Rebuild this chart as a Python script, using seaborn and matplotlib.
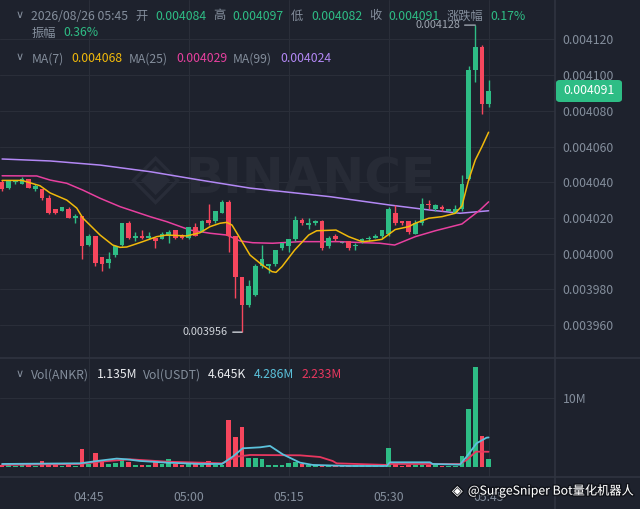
import numpy as np
import matplotlib
matplotlib.use("Agg")
import matplotlib.pyplot as plt
import seaborn as sns
from matplotlib import patheffects as pe
from matplotlib.lines import Line2D
from matplotlib.patches import FancyBboxPatch

# ---------------- data (prices in 1e-6 USDT, volumes in millions) ----------------
open_e6 = [4040,4037,4040,4039,4042,4036,4036,4031,4025,4024,4025,4020,4021,4005,4010,3998,3995,3999,4005,4017,
           4009,4010,4009,4009,4008,4010,4013,4010,4009,4015,4012,4019,4018,4023,4029,4010,3987,3971,3977,3993,
           3993,3994,4003,4004,4008,4019,4016,4017,4018,4004,4010,4006,4007,4004,4007,4008,4009,4010,4011,4023,
           4018,4018,4011,4017,4028,4025,4026,4024,4023,4025,4042,4103,4116,4084]
close_e6 = [4036,4041,4041,4042,4037,4038,4031,4023,4023,4026,4020,4021,4004,4010,3995,3994,3997,4004,4017,4009,
            4010,4009,4010,4007,4011,4012,4009,4009,4015,4010,4018,4017,4024,4029,4010,3987,3971,3982,3993,3997,
            3994,4002,4006,4008,4019,4017,4017,4018,4003,4009,4008,4006,4003,4005,4008,4009,4010,4013,4025,4017,
            4017,4012,4017,4028,4027,4027,4025,4025,4025,4039,4103,4116,4084,4091]
high_e6 = [4041,4041,4041,4043,4042,4039,4036,4033,4025,4026,4026,4022,4021,4011,4010,3998,4001,4005,4017,4018,
           4012,4013,4012,4009,4012,4013,4013,4011,4015,4017,4019,4028,4024,4030,4030,4010,3987,3985,3994,4005,
           3994,4002,4006,4008,4021,4020,4020,4019,4019,4010,4011,4007,4007,4006,4009,4010,4011,4013,4026,4027,
           4018,4018,4019,4031,4030,4028,4027,4025,4027,4044,4105,4128,4117,4097]
low_e6 = [4035,4036,4039,4039,4037,4035,4030,4022,4022,4024,4020,4017,3997,4004,3993,3990,3992,3998,4004,4008,
          4007,4008,4008,4003,4008,4006,4008,4008,4008,4010,4012,4016,4017,4023,4001,3975,3956,3970,3976,3992,
          3989,3993,4002,4001,4007,4016,4014,4016,4002,4003,4007,4006,4002,4002,4006,4007,4009,4009,4010,4016,
          4016,4011,4011,4016,4025,4024,4024,4024,4023,4024,4041,4096,4078,4082]
volume_m = [0.38,0.29,0.24,0.29,0.38,0.24,0.91,0.57,0.38,0.24,0.38,0.24,2.63,0.48,2.11,1.05,0.48,0.67,1.05,0.81,
            0.38,0.38,0.38,0.81,0.48,1.15,0.48,0.38,0.48,0.77,0.38,0.86,0.29,0.29,6.80,4.31,5.75,1.29,1.29,1.15,
            0.34,0.34,0.34,0.57,0.77,0.48,0.38,0.29,0.38,0.38,0.29,0.29,0.29,0.29,0.29,0.34,0.29,0.34,2.73,0.48,
            0.24,0.34,0.34,0.38,0.34,0.29,0.24,0.24,0.24,1.63,8.43,14.37,4.50,1.135]

# moving averages (candle index -> value)
ma7_idx = [0,3,5.7,7.2,9.7,11.2,12.1,14.7,16.6,17.7,18.7,19.6,21.1,23.2,24.7,27.7,29.7,31.2,32.7,33.7,34.5,35.7,
           37.2,39,40.5,41.1,42,43.9,46,47.2,50.1,52,54,55.6,57,59,61,62,64,66,68,69,70,71,72,73]
ma7_e6 = [4041,4041,4038,4034,4030,4025.5,4020,4010.4,4004.8,4003.5,4003.7,4004.8,4006.7,4009.5,4010.4,4009.9,
          4011.7,4015.1,4017,4017.5,4016,4008.6,3999.2,3993.7,3989.9,3989.5,3992.7,4002,4010.4,4012.8,4013.2,
          4009.5,4006.7,4007.2,4008,4013.5,4015.1,4017,4019.8,4020.7,4022.6,4026.7,4041.2,4052.4,4059.9,4068]
ma25_idx = [0,5.2,7.2,9.7,12.1,14.7,17.7,22.2,24.7,28.2,31.2,33.7,35.7,37.6,40.6,44.7,50.7,54.4,56.7,58.9,62,65,
            69,71.7,73]
ma25_e6 = [4043.6,4043.5,4041.2,4039.4,4035.6,4031,4026.3,4020.7,4017.9,4013.2,4011.4,4010.4,4007.1,4006.1,4005.8,
           4006.7,4006.7,4006.1,4005.8,4004.8,4009.5,4012.8,4016.6,4024.4,4029]
ma99_idx = [0,7.2,14.7,22.2,29.7,37.2,49.2,58.2,64.2,68.7,73]
ma99_e6 = [4053,4051.9,4049.6,4045.9,4041.2,4036.7,4031.9,4027.2,4024.4,4022.6,4024]

vma_a_idx = [0,11.7,14.7,17.2,18.7,20.7,24.7,29.7,33,34.6,36.1,38.7,40.2,42.1,44.7,46.6,52.2,57.7,58.2,64.2,64.6,
             68.7,69.7,71.2,72.7,73]
vma_a_m = [0.48,0.57,0.96,1.25,1.15,0.91,0.67,0.48,0.48,1.53,2.73,2.87,3.07,1.87,0.67,0.34,0.19,0.19,0.72,0.72,
           0.48,0.38,1.53,3.45,4.26,4.286]
vma_b_idx = [0,7.2,11.7,14.7,19.2,24.7,29.7,33,35.2,37.2,44.7,47.7,49.6,50.2,57.7,58.2,68.7,69.7,71.1,73]
vma_b_m = [0.34,0.43,0.48,0.81,1.15,0.81,0.67,0.57,1.53,1.77,1.72,1.48,0.91,0.57,0.34,0.48,0.48,1.05,2.25,2.233]

price_ticks_e6 = [3960,3980,4000,4020,4040,4060,4080,4100,4120]
time_idx = [13,28,43,58,73]
time_labels = ["04:45","05:00","05:15","05:30","05:45"]

# ---------------- style ----------------
BG = "#1e222d"
GRID = "#2a2e39"
SEP = "#2f3440"
GRAY = "#848e9c"
GREEN = "#2ebd85"
RED = "#f6465d"
YEL = "#f0b90b"
PINK = "#e8409f"
PURP = "#b388f5"
CYAN = "#5bc2dc"
VRED = "#e8375f"
FS = 8.8

sns.set_theme(style="dark")
plt.rcParams["font.family"] = ["Noto Sans CJK SC", "DejaVu Sans"]
plt.rcParams["axes.unicode_minus"] = False

W, H = 640, 509
fig = plt.figure(figsize=(6.4, 5.09), dpi=100, facecolor=BG)
def fx(px): return px / W
def fy(py): return 1 - py / H

P_BOT, V_BOT, R_EDGE = 358, 476.7, 554.5
ax = fig.add_axes([0, fy(P_BOT), R_EDGE / W, P_BOT / H])
axv = fig.add_axes([0, fy(V_BOT), R_EDGE / W, (V_BOT - P_BOT) / H])
for a in (ax, axv):
    a.set_facecolor(BG)
    a.grid(False)
    for s in a.spines.values():
        s.set_visible(False)
    a.set_xlim(-0.315, 82.89)

o = np.array(open_e6) * 1e-6
c = np.array(close_e6) * 1e-6
h = np.array(high_e6) * 1e-6
l = np.array(low_e6) * 1e-6
idx = np.arange(len(o))
cols = np.where(c > o, GREEN, np.where(c < o, RED, GRAY))

# grid
for p in price_ticks_e6:
    ax.axhline(p * 1e-6, color=GRID, lw=0.8, zorder=0)
for t in time_idx:
    ax.axvline(t, color=GRID, lw=0.8, zorder=0)
    axv.axvline(t, color=GRID, lw=0.8, zorder=0)
axv.axhline(10, color=GRID, lw=0.8, zorder=0)

# watermark
ax.text(0.28, 0.5, "◈", transform=ax.transAxes, fontsize=46, color="#282c38",
        ha="center", va="center", family=["DejaVu Sans"], zorder=0.5)
ax.text(0.56, 0.5, "BINANCE", transform=ax.transAxes, fontsize=36, fontweight="bold",
        color="#272b36", ha="center", va="center", family=["DejaVu Sans"], zorder=0.5)

# candles
ax.vlines(idx, l, h, colors=cols, lw=1, zorder=3)
body_b = np.minimum(o, c)
body_h = np.maximum(np.abs(c - o), 0.7e-6)
ax.bar(idx, body_h, bottom=body_b, width=0.7, color=cols, linewidth=0, zorder=4)

# moving averages
sns.lineplot(x=ma99_idx, y=np.array(ma99_e6) * 1e-6, ax=ax, color=PURP, lw=1.1, estimator=None, sort=False, legend=False, zorder=2)
sns.lineplot(x=ma25_idx, y=np.array(ma25_e6) * 1e-6, ax=ax, color=PINK, lw=1.1, estimator=None, sort=False, legend=False, zorder=2)
sns.lineplot(x=ma7_idx, y=np.array(ma7_e6) * 1e-6, ax=ax, color=YEL, lw=1.1, estimator=None, sort=False, legend=False, zorder=5)

ax.set_ylim(3941.52e-6, 4142.07e-6)
ax.set_xlim(-0.315, 82.89)
ax.set_xticks([])
ax.set_yticks(np.array(price_ticks_e6) * 1e-6)
ax.set_yticklabels([f"{p*1e-6:.6f}" for p in price_ticks_e6])
ax.yaxis.tick_right()
ax.tick_params(axis="y", colors=GRAY, labelsize=FS, length=0, pad=6)
ax.set_xlabel(""); ax.set_ylabel("")

# high / low markers
imax, imin = int(np.argmax(h)), int(np.argmin(l))
ax.annotate(f"{h[imax]:.6f}", xy=(imax, h[imax]), xytext=(-11, 0), textcoords="offset points",
            ha="right", va="center", fontsize=7.8, color="#9ea5b0",
            arrowprops=dict(arrowstyle="-", color="#9ea5b0", lw=1, shrinkA=1, shrinkB=0))
ax.annotate(f"{l[imin]:.6f}", xy=(imin, l[imin]), xytext=(-10, 0), textcoords="offset points",
            ha="right", va="center", fontsize=7.8, color="#d0d4da",
            arrowprops=dict(arrowstyle="-", color="#d0d4da", lw=1, shrinkA=1, shrinkB=0))

# volume
vcols = np.where(c > o, GREEN, np.where(c < o, RED, GRAY))
axv.bar(idx, volume_m, width=0.7, color=vcols, linewidth=0, zorder=3)
sns.lineplot(x=vma_b_idx, y=vma_b_m, ax=axv, color=VRED, lw=1.3, estimator=None, sort=False, legend=False, zorder=4)
sns.lineplot(x=vma_a_idx, y=vma_a_m, ax=axv, color=CYAN, lw=1.3, estimator=None, sort=False, legend=False, zorder=5)
axv.set_ylim(-1.35, 15.70)
axv.set_xlim(-0.315, 82.89)
axv.set_yticks([10]); axv.set_yticklabels(["10M"])
axv.yaxis.tick_right()
axv.tick_params(axis="y", colors=GRAY, labelsize=FS, length=0, pad=6)
axv.set_xticks(time_idx); axv.set_xticklabels(time_labels)
axv.tick_params(axis="x", colors=GRAY, labelsize=FS, length=0, pad=10)
axv.set_xlabel(""); axv.set_ylabel("")

# separators
fig.add_artist(Line2D([0, 1], [fy(P_BOT), fy(P_BOT)], transform=fig.transFigure, color=SEP, lw=1.2))
fig.add_artist(Line2D([0, 1], [fy(V_BOT), fy(V_BOT)], transform=fig.transFigure, color=SEP, lw=1.2))
fig.add_artist(Line2D([fx(R_EDGE), fx(R_EDGE)], [0, 1], transform=fig.transFigure, color=SEP, lw=1.2))

# current price label
fig.add_artist(FancyBboxPatch((fx(556), fy(102)), fx(66), 22 / H, boxstyle="round,pad=0,rounding_size=0.006",
                              transform=fig.transFigure, fc=GREEN, ec="none"))
fig.text(fx(589), fy(91), f"{c[-1]:.6f}", color="white", fontsize=FS, ha="center", va="center")

# header texts
def T(x, y, s, col, size=FS, **kw):
    fig.text(fx(x), fy(y), s, color=col, fontsize=size, ha="left", va="center", **kw)

T(16, 15, "∨", GRAY, 8, family=["DejaVu Sans"])
T(31, 16, "2026/08/26 05:45", GRAY)
T(135, 16, "开", GRAY); T(155, 16, f"{o[-1]:.6f}", GREEN)
T(213, 16, "高", GRAY); T(232, 16, f"{h[-1]:.6f}", GREEN)
T(291, 16, "低", GRAY); T(311, 16, f"{l[-1]:.6f}", GREEN)
T(369, 16, "收", GRAY); T(388, 16, f"{c[-1]:.6f}", GREEN)
T(447, 16, "涨跌幅", GRAY); T(490, 16, f"{(c[-1]/o[-1]-1)*100:.2f}%", GREEN)
T(32, 33, "振幅", GRAY); T(63, 33, "0.36%", GREEN)

T(16, 57, "∨", GRAY, 8, family=["DejaVu Sans"])
T(32, 59, "MA(7)", GRAY); T(71, 59, f"{ma7_e6[-1]*1e-6:.6f}", YEL)
T(129, 59, "MA(25)", GRAY); T(176, 59, f"{ma25_e6[-1]*1e-6:.6f}", PINK)
T(233, 59, "MA(99)", GRAY); T(280, 59, f"{ma99_e6[-1]*1e-6:.6f}", PURP)

T(16, 374, "∨", GRAY, 8, family=["DejaVu Sans"])
T(31, 375, "Vol(ANKR)", GRAY); T(97, 375, f"{volume_m[-1]:.3f}M", "#eaecef")
T(143, 375, "Vol(USDT)", GRAY); T(208, 375, "4.645K", "#eaecef")
T(254, 375, f"{vma_a_m[-1]:.3f}M", CYAN); T(302, 375, f"{vma_b_m[-1]:.3f}M", VRED)

# bottom watermark
shadow = [pe.withStroke(linewidth=2.2, foreground="#0d0f14", alpha=0.7)]
fig.text(fx(452), fy(491), "◈", color="white", fontsize=10, ha="left", va="center",
         family=["DejaVu Sans"], path_effects=shadow)
fig.text(fx(468), fy(491), "@SurgeSniper Bot量化机器人", color="white", fontsize=FS,
         ha="left", va="center", path_effects=shadow)

fig.savefig("out.png", dpi=100, facecolor=BG)
